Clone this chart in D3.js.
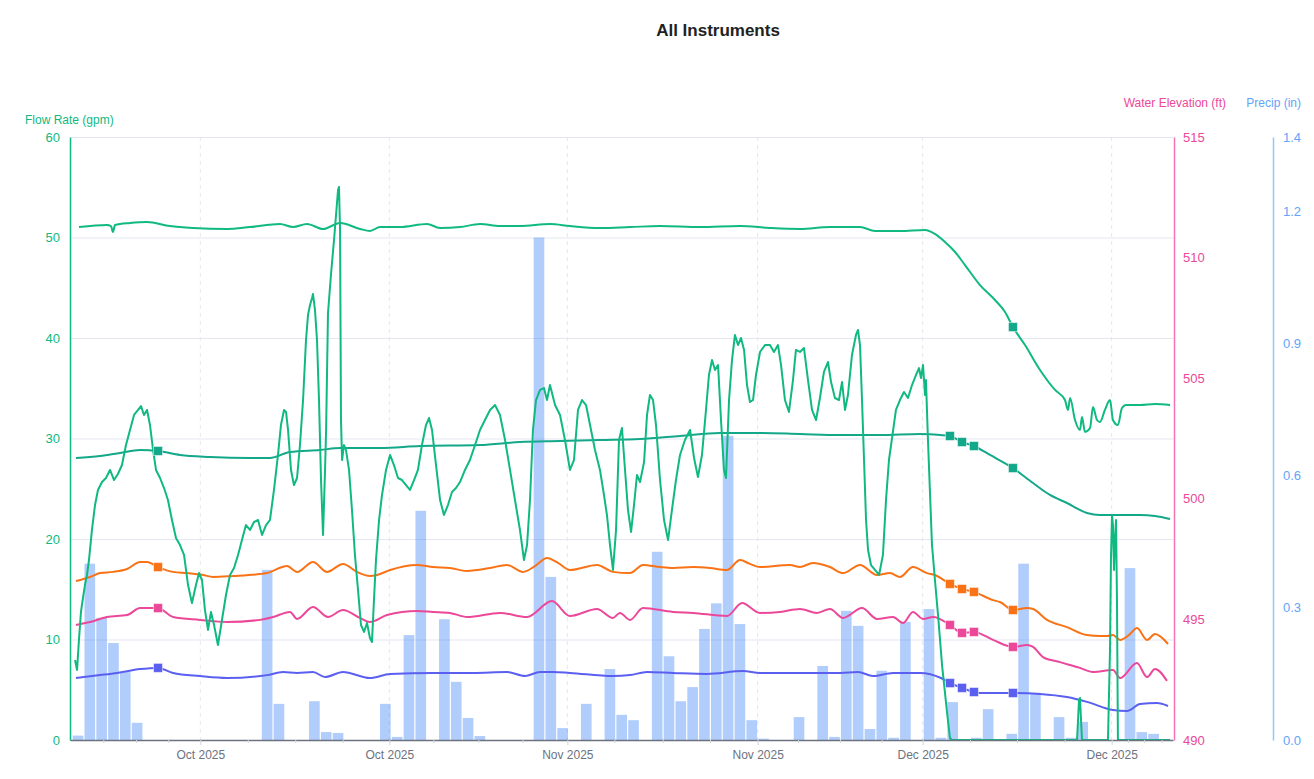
<!DOCTYPE html>
<html>
<head>
<meta charset="utf-8">
<script src="https://cdn.jsdelivr.net/npm/d3@7"></script>
<style>
  body { margin: 0; background: #fff; }
  svg { display: block; font-family: "Helvetica Neue", Helvetica, Arial, "Liberation Sans", sans-serif; }
</style>
</head>
<body>
<svg id="chart" width="1314" height="779"></svg>
<script>

// ---- data (x in days since the first record) ----

var dayRange = [-0.677, 92.64];

var monthTickDays = [10.35, 26.34, 41.40, 57.50, 71.46, 87.45];
var monthTickLabels = ["Oct 2025", "Oct 2025", "Nov 2025", "Nov 2025", "Dec 2025", "Dec 2025"];
var minorTickDays = [2.14, 4.91, 7.64, 14.36, 18.38, 22.39, 30.06, 33.87, 37.62, 45.37, 49.47, 53.47,
	60.91, 64.47, 67.99, 75.47, 79.44, 83.48, 88.83, 90.19, 91.68];

var flowTicks = [0, 10, 20, 30, 40, 50, 60];
var elevTicks = [490, 495, 500, 505, 510, 515];
var precipTicks = [0, 0.3, 0.6, 0.9, 1.2, 1.368];
var precipMax = 1.368;

// daily precipitation (in), one per day
var precip = [0.01, 0.40, 0.277, 0.22, 0.154, 0.039, 0, 0, 0, 0,
	0, 0, 0, 0, 0, 0, 0.386, 0.082, 0, 0,
	0.088, 0.018, 0.016, 0, 0, 0, 0.082, 0.007, 0.238, 0.52,
	0, 0.274, 0.132, 0.05, 0.009, 0, 0, 0, 0, 1.14,
	0.37, 0.027, 0, 0.082, 0, 0.161, 0.057, 0.045, 0, 0.427,
	0.19, 0.088, 0.12, 0.252, 0.31, 0.69, 0.263, 0.045, 0.003, 0,
	0, 0.052, 0, 0.168, 0.007, 0.293, 0.259, 0.025, 0.157, 0.005,
	0.268, 0, 0.297, 0.005, 0.086, 0, 0.005, 0.07, 0, 0.014,
	0.40, 0.107, 0, 0.052, 0.005, 0.041, 0, 0, 0, 0.39,
	0.018, 0.014];

// flow meter A (gpm)
var flowA = [[-0.25,7.96],[-0.08,6.97],[0.08,9.95],[0.25,12.74],[0.42,14.13],[0.59,15.42],[0.76,16.42],[0.93,17.91],[1.18,20.9],[1.44,23.38],[1.69,24.88],[2.03,25.67],[2.37,26.07],[2.71,26.87],[3.05,25.87],[3.38,26.47],[3.72,27.36],[4.06,29.35],[4.40,30.85],[4.74,32.34],[5.08,32.84],[5.33,33.23],[5.58,32.34],[5.84,32.84],[6.09,31.34],[6.35,28.86],[6.60,26.87],[6.94,26.07],[7.28,25.07],[7.61,23.88],[7.95,21.89],[8.29,20.1],[8.63,19.4],[8.97,18.41],[9.31,15.42],[9.64,13.63],[9.98,15.42],[10.24,16.62],[10.49,15.92],[10.74,12.94],[11.0,10.95],[11.25,12.74],[11.51,11.44],[11.84,9.45],[12.18,11.94],[12.52,14.43],[12.86,16.42],[13.2,17.11],[13.54,18.41],[13.87,19.9],[14.21,21.39],[14.55,20.9],[14.89,21.69],[15.23,21.89],[15.57,20.4],[15.91,21.39],[16.24,21.89],[16.58,24.88],[16.92,28.36],[17.17,31.34],[17.43,32.84],[17.6,32.64],[17.77,30.85],[18.02,26.87],[18.27,25.37],[18.53,26.07],[18.78,29.35],[19.04,33.83],[19.29,39.8],[19.46,42.29],[19.63,43.28],[19.8,43.98],[19.88,44.38],[20.05,42.79],[20.22,39.8],[20.39,33.83],[20.56,25.87],[20.73,20.4],[20.9,26.87],[20.99,30.85],[21.15,42.49],[21.4,46.27],[21.66,49.75],[21.83,52.24],[22.0,54.73],[22.08,55.02],[22.17,50.75],[22.25,31.84],[22.34,27.86],[22.5,29.35],[22.67,28.86],[22.93,26.87],[23.18,22.89],[23.43,18.41],[23.69,14.93],[23.94,11.44],[24.2,10.75],[24.45,11.64],[24.7,10.15],[24.87,9.75],[25.04,13.93],[25.21,17.91],[25.47,21.89],[25.72,24.38],[26.06,26.87],[26.4,28.36],[26.73,27.36],[27.07,26.07],[27.41,25.87],[27.75,25.37],[28.09,24.88],[28.43,25.87],[28.76,26.87],[29.1,29.35],[29.44,31.34],[29.7,32.04],[29.95,30.85],[30.29,27.36],[30.63,23.88],[30.96,22.39],[31.3,23.38],[31.64,24.68],[31.98,25.07],[32.32,25.67],[32.74,26.87],[33.16,27.86],[33.59,29.35],[34.01,30.85],[34.43,31.84],[34.86,32.84],[35.28,33.33],[35.7,32.34],[36.13,29.85],[36.55,26.87],[36.97,23.88],[37.39,20.9],[37.73,17.91],[37.99,19.4],[38.24,23.88],[38.49,30.85],[38.75,33.83],[39.09,34.83],[39.42,35.02],[39.68,33.83],[39.93,35.32],[40.36,33.33],[40.78,32.34],[41.2,29.85],[41.62,26.87],[41.96,27.86],[42.3,32.84],[42.64,33.83],[42.98,33.33],[43.32,31.34],[43.74,28.86],[44.16,26.87],[44.5,24.38],[44.75,22.39],[45.01,19.4],[45.26,16.92],[45.52,20.9],[45.77,29.85],[46.02,31.04],[46.28,26.87],[46.53,22.89],[46.79,20.7],[47.04,23.38],[47.29,26.37],[47.55,25.67],[47.89,27.66],[48.14,32.34],[48.39,34.33],[48.65,33.83],[48.9,31.34],[49.24,25.87],[49.58,21.89],[49.92,19.9],[50.25,22.89],[50.59,25.87],[50.93,28.36],[51.35,29.85],[51.78,30.85],[52.12,28.06],[52.45,26.17],[52.79,28.36],[53.13,32.84],[53.38,36.32],[53.64,37.81],[53.89,36.82],[54.15,37.31],[54.4,31.84],[54.65,26.87],[54.82,26.07],[55.08,33.83],[55.33,37.81],[55.58,40.3],[55.84,39.3],[56.09,40.0],[56.35,38.81],[56.6,35.32],[56.85,33.63],[57.11,33.83],[57.36,36.32],[57.7,38.61],[58.12,39.3],[58.54,39.3],[58.88,38.61],[59.22,39.3],[59.48,37.31],[59.81,33.83],[60.15,32.64],[60.49,35.82],[60.74,38.81],[61.08,38.61],[61.42,39.0],[61.76,35.82],[62.1,32.84],[62.44,31.84],[62.77,34.03],[63.11,36.62],[63.45,37.61],[63.71,35.62],[64.04,34.03],[64.38,33.83],[64.64,35.62],[64.89,32.84],[65.14,34.33],[65.48,38.31],[65.82,40.3],[65.99,40.8],[66.16,39.3],[66.33,33.83],[66.5,27.86],[66.67,21.89],[66.84,18.91],[67.09,17.41],[67.43,16.92],[67.77,16.42],[68.1,18.41],[68.36,23.88],[68.61,27.86],[68.87,30.05],[69.2,32.84],[69.54,33.83],[69.88,34.63],[70.22,34.03],[70.56,35.32],[70.9,36.32],[71.15,37.01],[71.32,36.02],[71.49,37.31],[71.66,34.33],[71.74,35.82],[71.91,29.85],[72.25,19.4],[72.5,15.92],[72.76,12.44],[73.1,7.46],[73.52,2.79],[73.77,0.2],[73.94,0],[84.52,0],[84.69,3.98],[84.77,4.18],[84.94,0],[87.14,0],[87.31,8.96],[87.39,17.91],[87.48,22.39],[87.56,21.39],[87.65,16.92],[87.73,19.9],[87.82,21.89],[87.9,13.93],[87.98,0],[92.39,0]];

// flow meter B (gpm)
var flowB = [[0.08,51.04],[2.45,51.24],[2.79,51.14],[2.96,50.55],[3.13,51.24],[4.40,51.44],[5.84,51.54],[7.78,51.14],[9.73,50.95],[12.61,50.85],[14.55,51.04],[17.09,51.34],[18.19,51.04],[19.37,51.34],[20.73,50.85],[22.17,51.44],[23.86,50.85],[24.70,50.65],[25.55,51.04],[27.24,51.04],[29.53,51.34],[30.63,50.95],[32.32,51.04],[34.01,51.34],[35.70,51.14],[37.39,51.14],[39.93,51.34],[41.62,51.14],[44.16,50.95],[46.70,51.04],[49.24,51.14],[52.62,51.04],[56.01,51.14],[58.54,50.95],[61.08,50.85],[63.62,51.04],[66.16,51.04],[67.43,50.65],[69.54,50.65],[71.66,50.75],[72.50,50.35],[73.35,49.55],[74.20,48.56],[75.04,47.26],[76.31,45.27],[77.58,43.78],[78.43,42.59],[79.10,41.09],[80.12,39.30],[81.39,36.82],[82.66,34.83],[83.50,33.83],[83.76,32.84],[83.93,34.03],[84.35,31.84],[84.77,30.85],[84.94,32.14],[85.19,30.65],[85.62,31.04],[85.87,33.13],[86.21,31.84],[86.46,31.64],[86.88,32.84],[87.31,33.83],[87.56,31.84],[87.98,31.34],[88.32,33.03],[88.66,33.33],[89.85,33.33],[91.12,33.43],[92.39,33.33]];

// flow meter C (gpm)
var flowC = [[-0.17,28.06],[1.86,28.26],[3.55,28.56],[5.25,28.86],[6.77,28.76],[8.63,28.36],[11.17,28.16],[14.55,28.06],[16.24,28.06],[17.94,28.66],[20.47,28.86],[22.17,29.05],[25.55,29.05],[28.93,29.25],[34.01,29.35],[37.39,29.65],[40.78,29.75],[44.16,29.85],[47.55,29.95],[50.93,30.25],[54.31,30.55],[57.70,30.55],[61.08,30.45],[64.47,30.35],[67.85,30.35],[71.24,30.45],[72.93,30.35],[73.77,30.25],[74.79,29.65],[75.80,29.25],[77.16,28.36],[79.10,27.06],[80.80,25.57],[82.23,24.38],[83.67,23.58],[85.36,22.59],[86.46,22.39],[88.16,22.39],[89.85,22.39],[91.12,22.29],[92.39,21.99]];

// water elevations (ft)
var wellOrange = [[-0.17,496.59],[1.02,496.76],[1.86,496.92],[2.96,496.97],[4.15,497.09],[5.25,497.38],[5.84,497.38],[6.77,497.17],[8.04,496.97],[9.22,496.92],[10.58,496.84],[11.42,496.76],[13.11,496.80],[15.40,496.88],[15.99,496.92],[17.68,497.21],[18.53,496.97],[19.88,497.38],[21.07,496.97],[22.42,497.30],[23.60,496.97],[24.70,496.80],[25.30,496.84],[26.40,497.05],[28.68,497.26],[30.03,497.17],[31.47,497.13],[32.91,497.01],[34.86,497.13],[36.29,497.26],[37.65,496.97],[38.66,497.21],[39.68,497.55],[40.61,497.34],[41.62,497.05],[43.91,497.26],[45.26,496.97],[46.70,496.92],[47.80,497.26],[49.24,497.17],[50.34,497.13],[52.03,497.17],[53.47,497.13],[54.91,497.05],[56.01,497.46],[56.85,497.30],[57.70,497.17],[60.24,497.26],[61.08,497.17],[62.18,497.34],[63.62,497.17],[64.72,496.92],[66.16,497.26],[67.60,496.84],[68.70,496.92],[69.54,496.76],[70.64,497.17],[71.83,496.92],[72.50,496.84],[73.77,496.47],[74.79,496.26],[75.80,496.14],[77.41,495.80],[78.00,495.72],[79.10,495.39],[80.29,495.47],[80.80,495.43],[81.98,494.98],[83.67,494.68],[85.36,494.35],[86.46,494.31],[87.06,494.31],[87.56,494.35],[88.16,494.15],[89.00,494.39],[89.59,494.64],[90.44,494.15],[91.12,494.39],[92.22,493.98]];

var wellPink = [[-0.17,494.77],[1.02,494.89],[2.45,495.10],[4.15,495.18],[5.25,495.47],[6.77,495.47],[8.04,495.10],[10.32,494.98],[12.61,494.89],[15.40,494.98],[16.50,495.10],[17.94,495.31],[18.53,495.02],[19.88,495.51],[21.15,495.10],[22.42,495.39],[23.86,495.06],[24.70,494.89],[26.14,495.18],[28.68,495.35],[30.03,495.31],[31.47,495.27],[32.91,495.10],[35.70,495.27],[37.99,495.10],[40.10,495.76],[41.62,495.14],[43.91,495.43],[45.26,495.06],[45.85,495.27],[46.70,494.98],[47.80,495.47],[50.34,495.31],[52.03,495.27],[54.91,495.14],[56.18,495.68],[57.70,495.27],[59.39,495.31],[61.08,495.43],[62.52,495.27],[63.62,495.43],[64.72,495.06],[66.33,495.47],[67.60,495.02],[68.95,495.10],[69.80,494.85],[70.64,495.31],[71.49,495.02],[72.34,495.10],[73.77,494.77],[74.79,494.44],[75.80,494.48],[77.41,494.15],[79.10,493.86],[80.29,493.94],[80.80,493.86],[81.64,493.44],[83.08,493.23],[84.77,492.99],[85.87,492.82],[87.56,492.90],[88.16,492.57],[89.59,493.19],[90.44,492.61],[91.12,492.94],[92.13,492.45]];

var wellPurple = [[-0.17,492.57],[1.86,492.69],[3.30,492.78],[5.25,492.94],[6.77,492.99],[8.04,492.78],[10.32,492.65],[12.61,492.57],[15.99,492.69],[17.34,492.82],[18.53,492.78],[19.88,492.82],[20.90,492.61],[22.42,492.82],[24.70,492.57],[26.40,492.74],[30.03,492.78],[33.42,492.78],[36.29,492.82],[37.82,492.65],[39.09,492.82],[40.19,492.82],[41.62,492.78],[45.26,492.65],[46.70,492.69],[48.14,492.82],[50.34,492.78],[53.21,492.74],[56.26,492.86],[57.70,492.78],[61.68,492.78],[64.47,492.78],[65.99,492.82],[67.26,492.65],[68.95,492.78],[71.24,492.78],[73.01,492.57],[73.77,492.36],[74.79,492.16],[75.80,491.99],[76.31,491.95],[79.10,491.95],[81.39,491.91],[83.67,491.78],[85.36,491.58],[87.56,491.24],[88.75,491.20],[89.85,491.49],[91.29,491.53],[92.22,491.41]];

// manual readings
var readingsB = [[79.10, 41.09]];
var readingsC = [[6.77, 28.76], [73.77, 30.25], [74.79, 29.65], [75.80, 29.25], [79.10, 27.06]];
var readingsOrange = [[6.77, 497.17], [73.77, 496.47], [74.79, 496.26], [75.80, 496.14], [79.10, 495.39]];
var readingsPink = [[6.77, 495.47], [73.77, 494.77], [74.79, 494.44], [75.80, 494.48], [79.10, 493.86]];
var readingsPurple = [[6.77, 492.99], [73.77, 492.36], [74.79, 492.16], [75.80, 491.99], [79.10, 491.95]];

// ---- drawing ----

var svg = d3.select("#chart");
var plot = {left: 70, right: 1173, top: 137, bottom: 740};

var green = "#10b981", teal = "#14a88a", orange = "#f97316", pink = "#ec4899",
	purple = "#5b5ff0", precipBlue = "#60a5fa";

var x = d3.scaleLinear().domain(dayRange).range([plot.left, plot.right]);
var yFlow = d3.scaleLinear().domain([0, 60]).range([plot.bottom, plot.top]);
var yElev = d3.scaleLinear().domain([490, 515]).range([plot.bottom, plot.top]);
var yPrecip = d3.scaleLinear().domain([0, precipMax]).range([plot.bottom, plot.top]);

svg.append("defs").append("clipPath").attr("id", "plotClip")
	.append("rect")
	.attr("x", plot.left).attr("y", plot.top - 2)
	.attr("width", plot.right - plot.left).attr("height", plot.bottom - plot.top + 2);

// horizontal grid
svg.append("g")
	.attr("transform", "translate(" + plot.left + ",0)")
	.call(d3.axisLeft(yFlow).tickValues(flowTicks).tickSize(-(plot.right - plot.left)).tickFormat(""))
	.call(function(g) { g.select(".domain").remove(); })
	.selectAll("line")
	.attr("stroke", "#e4e7f2")
	.attr("stroke-width", 1);

// vertical dashed grid at month ticks
svg.append("g")
	.selectAll("line")
	.data(monthTickDays)
	.enter()
	.append("line")
	.attr("x1", function(d) { return x(d); })
	.attr("x2", function(d) { return x(d); })
	.attr("y1", plot.top)
	.attr("y2", plot.bottom)
	.attr("stroke", "#e5e7eb")
	.attr("stroke-dasharray", "4,4");

// precipitation bars
var barStep = x(1) - x(0);
svg.append("g")
	.selectAll("rect")
	.data(precip.map(function(v, i) { return {day: i, value: v}; }).filter(function(d) { return d.value > 0; }))
	.enter()
	.append("rect")
	.attr("x", function(d) { return x(d.day) - barStep * 0.45; })
	.attr("width", barStep * 0.9)
	.attr("y", function(d) { return yPrecip(d.value); })
	.attr("height", function(d) { return plot.bottom - yPrecip(d.value); })
	.attr("fill", "rgba(59,130,246,0.4)");

// lines
var lines = svg.append("g").attr("clip-path", "url(#plotClip)");

function drawLine(data, yScale, color, curve) {
	var line = d3.line()
		.x(function(d) { return x(d[0]); })
		.y(function(d) { return yScale(d[1]); })
		.curve(curve || d3.curveMonotoneX);
	lines.append("path")
		.datum(data)
		.attr("d", line)
		.attr("fill", "none")
		.attr("stroke", color)
		.attr("stroke-width", 2)
		.attr("stroke-linejoin", "round");
}

drawLine(wellPurple, yElev, purple);
drawLine(wellPink, yElev, pink);
drawLine(wellOrange, yElev, orange);
drawLine(flowC, yFlow, teal);
drawLine(flowB, yFlow, green);
drawLine(flowA, yFlow, green, d3.curveLinear);

function drawReadings(data, yScale, color) {
	svg.append("g")
		.selectAll("rect")
		.data(data)
		.enter()
		.append("rect")
		.attr("x", function(d) { return x(d[0]) - 4.5; })
		.attr("y", function(d) { return yScale(d[1]) - 4.5; })
		.attr("width", 9)
		.attr("height", 9)
		.attr("fill", color)
		.attr("stroke", "#fff")
		.attr("stroke-opacity", 0.5)
		.attr("stroke-width", 1);
}

drawReadings(readingsB, yFlow, teal);
drawReadings(readingsC, yFlow, teal);
drawReadings(readingsOrange, yElev, orange);
drawReadings(readingsPink, yElev, pink);
drawReadings(readingsPurple, yElev, purple);

// x axis
var xAxisG = svg.append("g")
	.attr("transform", "translate(0," + plot.bottom + ")")
	.call(d3.axisBottom(x).tickValues(monthTickDays).tickSize(5).tickSizeOuter(0).tickPadding(5)
		.tickFormat(function(d, i) { return monthTickLabels[i]; }));
xAxisG.select(".domain").attr("stroke", "#6b7280").attr("stroke-width", 1.5);
xAxisG.selectAll(".tick line").attr("stroke", "#d1d5db");
xAxisG.selectAll("text").attr("fill", "#6b7280").attr("font-size", 12);

svg.append("g")
	.attr("transform", "translate(0," + plot.bottom + ")")
	.call(d3.axisBottom(x).tickValues(minorTickDays).tickSize(3).tickFormat(""))
	.call(function(g) { g.select(".domain").remove(); })
	.selectAll("line").attr("stroke", "#d1d5db");

// left flow axis
var flowAxisG = svg.append("g")
	.attr("transform", "translate(" + plot.left + ",0)")
	.call(d3.axisLeft(yFlow).tickValues(flowTicks).tickSize(0).tickSizeOuter(0).tickPadding(10));
flowAxisG.select(".domain").attr("stroke", green).attr("stroke-width", 1.5);
flowAxisG.selectAll("text").attr("fill", green).attr("font-size", 13);

// elevation axis
var elevAxisG = svg.append("g")
	.attr("transform", "translate(" + (plot.right + 1) + ",0)")
	.call(d3.axisRight(yElev).tickValues(elevTicks).tickSize(0).tickSizeOuter(0).tickPadding(9));
elevAxisG.select(".domain").attr("stroke", "#f472b6").attr("stroke-width", 1.5);
elevAxisG.selectAll("text").attr("fill", pink).attr("font-size", 13);

// precip axis
var precipAxisG = svg.append("g")
	.attr("transform", "translate(1273,0)")
	.call(d3.axisRight(yPrecip).tickValues(precipTicks).tickSize(0).tickSizeOuter(0).tickPadding(10)
		.tickFormat(function(d) { return d.toFixed(1); }));
precipAxisG.select(".domain").attr("stroke", "#93c5fd").attr("stroke-width", 1.5);
precipAxisG.selectAll("text").attr("fill", precipBlue).attr("font-size", 13);

// titles
svg.append("text")
	.attr("x", 718).attr("y", 36)
	.attr("text-anchor", "middle")
	.attr("font-size", 17).attr("font-weight", "bold")
	.attr("fill", "#222")
	.text("All Instruments");

svg.append("text")
	.attr("x", 25).attr("y", 124)
	.attr("font-size", 12).attr("fill", green)
	.text("Flow Rate (gpm)");

svg.append("text")
	.attr("x", 1226).attr("y", 107)
	.attr("text-anchor", "end")
	.attr("font-size", 12).attr("fill", pink)
	.text("Water Elevation (ft)");

svg.append("text")
	.attr("x", 1301).attr("y", 107)
	.attr("text-anchor", "end")
	.attr("font-size", 12).attr("fill", precipBlue)
	.text("Precip (in)");

</script>
</body>
</html>
